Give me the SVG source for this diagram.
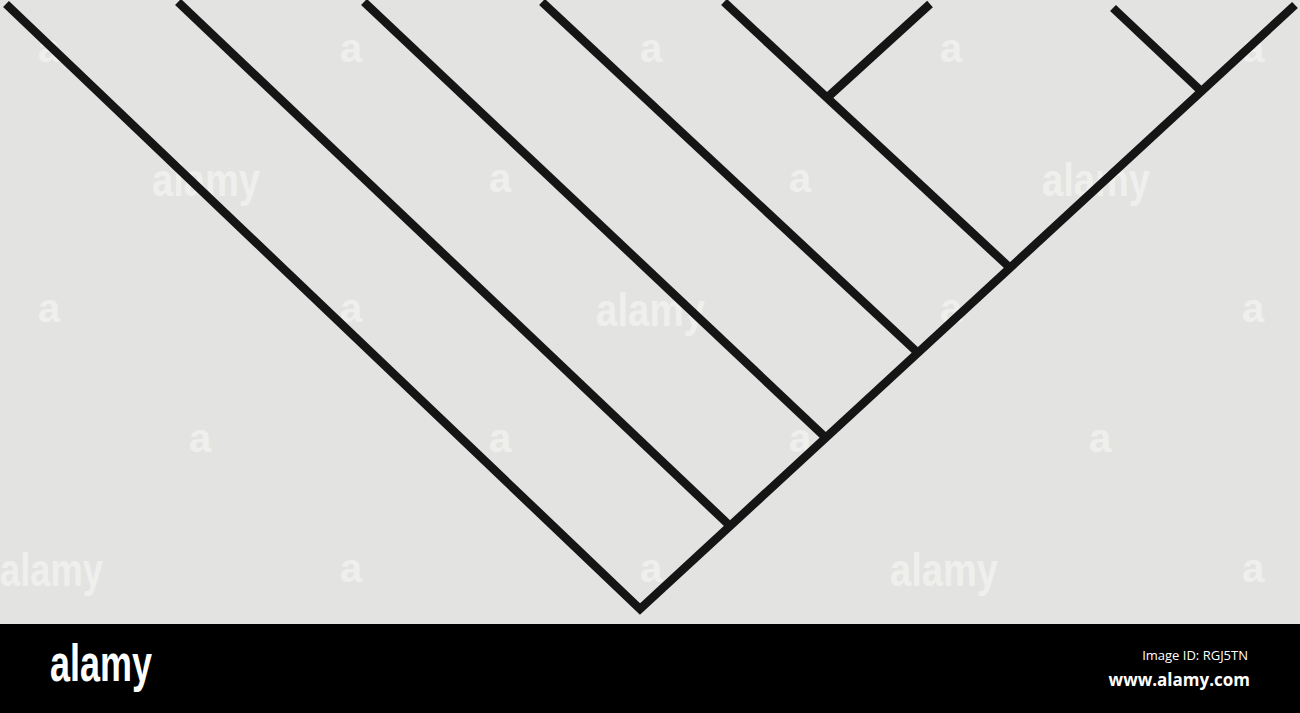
<svg xmlns="http://www.w3.org/2000/svg" width="1300" height="713" viewBox="0 0 1300 713">
<style>
.br{stroke:#151515;stroke-width:8.5;stroke-linecap:butt;fill:none}
.wm{font-family:"Liberation Sans Narrow","Liberation Sans",Arial,sans-serif;font-weight:bold;fill:#f3f3f1;fill-opacity:0.8}
.wa{font-size:40px}
.wl{font-size:46px}
</style>
<rect x="0" y="0" width="1300" height="713" fill="#e3e4e2"/>
<g id="watermarks">
<text class="wm wa" x="38" y="62">a</text>
<text class="wm wa" x="340" y="62">a</text>
<text class="wm wa" x="640" y="62">a</text>
<text class="wm wa" x="940" y="62">a</text>
<text class="wm wa" x="1242" y="62">a</text>
<text class="wm wl" x="152" y="196" textLength="108" lengthAdjust="spacingAndGlyphs">alamy</text>
<text class="wm wa" x="489" y="192">a</text>
<text class="wm wa" x="789" y="192">a</text>
<text class="wm wl" x="1042" y="196" textLength="108" lengthAdjust="spacingAndGlyphs">alamy</text>
<text class="wm wa" x="38" y="322">a</text>
<text class="wm wa" x="340" y="322">a</text>
<text class="wm wl" x="596" y="326" textLength="109" lengthAdjust="spacingAndGlyphs">alamy</text>
<text class="wm wa" x="940" y="322">a</text>
<text class="wm wa" x="1242" y="322">a</text>
<text class="wm wa" x="189" y="452">a</text>
<text class="wm wa" x="489" y="452">a</text>
<text class="wm wa" x="789" y="452">a</text>
<text class="wm wa" x="1089" y="452">a</text>
<text class="wm wl" x="0" y="586" textLength="103" lengthAdjust="spacingAndGlyphs">alamy</text>
<text class="wm wa" x="340" y="582">a</text>
<text class="wm wa" x="640" y="582">a</text>
<text class="wm wl" x="890" y="586" textLength="108" lengthAdjust="spacingAndGlyphs">alamy</text>
<text class="wm wa" x="1242" y="582">a</text>
</g>
<g id="connectors">
<polyline class="br" points="6,4 640,609 1295,5" stroke-linejoin="miter"/>
<line class="br" x1="178" y1="2" x2="729" y2="525"/>
<line class="br" x1="364" y1="2" x2="825" y2="437"/>
<line class="br" x1="542" y1="2" x2="917" y2="352"/>
<line class="br" x1="724" y1="2" x2="1008" y2="266"/>
<line class="br" x1="829" y1="96" x2="930" y2="4"/>
<line class="br" x1="1113" y1="8" x2="1201" y2="91"/>
</g>
<g id="footer">
<rect x="0" y="624" width="1300" height="89" fill="#000000"/>
<text x="50" y="681" font-family="Liberation Sans Narrow,Liberation Sans,Arial,sans-serif" font-weight="bold" font-size="52" fill="#ffffff" textLength="102" lengthAdjust="spacingAndGlyphs">alamy</text>
<text x="1248" y="660" text-anchor="end" font-family="Open Sans,Liberation Sans,sans-serif" font-size="13" fill="#ffffff">Image ID: RGJ5TN</text>
<text x="1250" y="686" text-anchor="end" font-family="Open Sans,Liberation Sans,sans-serif" font-weight="bold" font-size="17" fill="#ffffff">www.alamy.com</text>
</g>
</svg>
